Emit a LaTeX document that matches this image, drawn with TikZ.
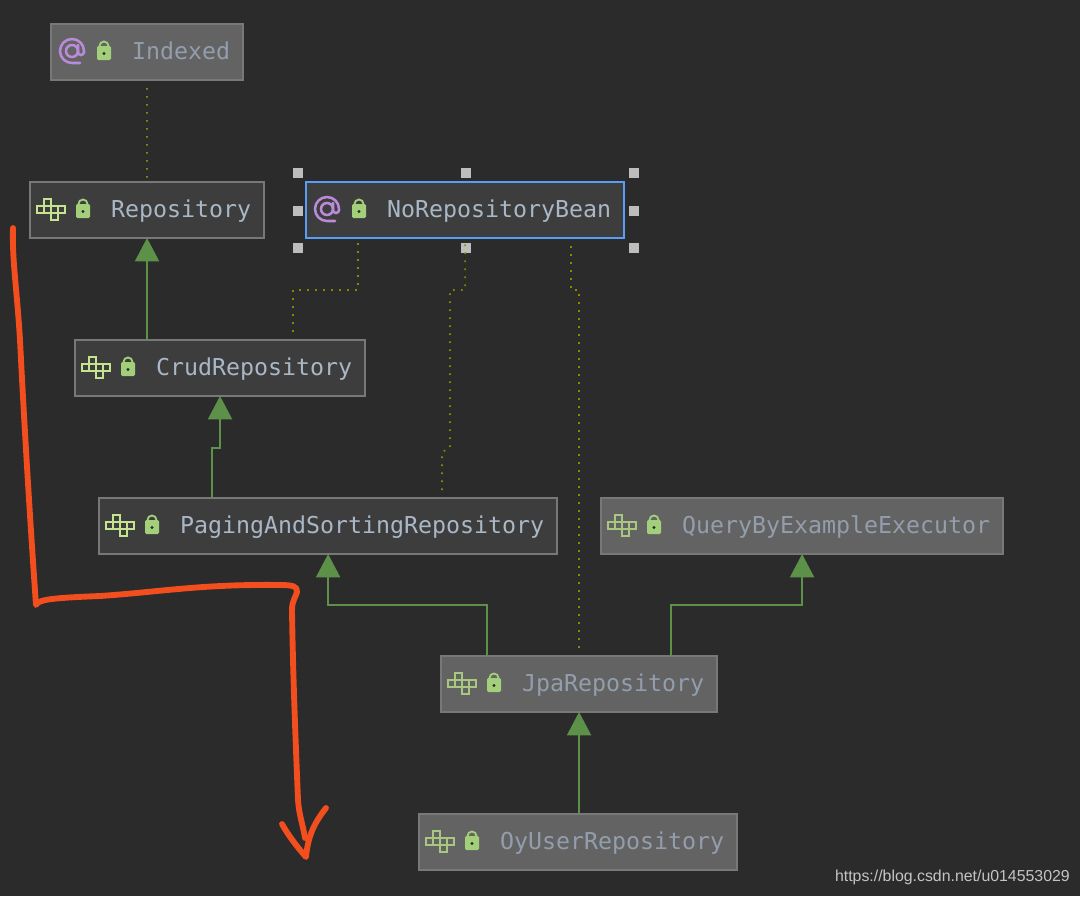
\documentclass[tikz,border=0pt]{standalone}
\usepackage{xcolor}
\usepackage{fontspec}
\setmonofont{DejaVu Sans Mono}
\setsansfont{Liberation Sans}
\usepackage{tikz}
\usetikzlibrary{arrows.meta,calc}
\definecolor{bgdark}{HTML}{2B2B2B}
\definecolor{boxdark}{HTML}{3D3D3D}
\definecolor{boxdim}{HTML}{636363}
\definecolor{boxline}{HTML}{787878}
\definecolor{txtbright}{HTML}{A9B7C6}
\definecolor{txtdim}{HTML}{939EAD}
\definecolor{selblue}{HTML}{589DF6}
\definecolor{extgreen}{HTML}{5D9049}
\definecolor{dotolive}{HTML}{8A8A00}
\definecolor{penred}{HTML}{F24E1E}
\definecolor{atpurple}{HTML}{BB8BDB}
\definecolor{clsgreen}{HTML}{C6E48F}
\definecolor{clsdim}{HTML}{A9C87F}
\definecolor{lockgreen}{HTML}{A3CF7B}
\definecolor{handlegray}{HTML}{BDBDBD}
\definecolor{marktxt}{HTML}{C4C4C4}

\begin{document}
\begin{tikzpicture}[
x=0.75pt,y=-0.75pt,
elem/.style={
    rectangle,anchor=north west,minimum height=42pt,inner ysep=0pt,inner xsep=9.75pt,outer sep=0pt,
    line width=1.5pt,draw=boxline,fill=boxdark,text=txtbright,text height=15.5pt,text depth=4pt,
    font=\ttfamily\fontsize{17.45}{20}\selectfont
},
elemdim/.style={
    elem,fill=boxdim,text=txtdim
},
extends/.style={
    line width=1.5pt,draw=extgreen,-{Triangle[length=17.5pt,width=18pt,fill=extgreen]}
},
annot/.style={
    line width=1.2pt,draw=dotolive,dash pattern=on 1.2pt off 4.8pt,shorten <=6pt,shorten >=3pt
},
handle/.style={
    rectangle,fill=handlegray,minimum size=7.5pt,inner sep=0pt
},
pen/.style={
    line width=4.4pt,draw=penred,line cap=round,line join=round
},
clsicon/.pic={
    \foreach \cx/\cy in {-7/-11,-14/-4,-7/-4,0/-4,7/-4,0/3}
        \draw[line width=1.6pt,pic actions] (\cx,\cy) rectangle ++(7,7);
},
lockicon/.pic={
    \fill[lockgreen,rounded corners=1pt] (-7,-6) rectangle (7,8);
    \draw[lockgreen,line width=1.4pt] (-4.5,-6) arc[start angle=180,end angle=360,radius=4.5];
    \fill[bgdark] (0,1.5) circle (1.7);
},
aticon/.pic={
    \draw[atpurple,line width=1.9pt,line cap=round] (0,0) circle (6);
    \draw[atpurple,line width=1.9pt,line cap=round] (6,-6) -- (6,1) arc[start angle=180,end angle=0,radius=3] -- (12,0)
        arc[start angle=0,end angle=-270,radius=12] -- (8,12);
}
]
    \fill[bgdark] (0,0) rectangle (1080,896);
    % selection handles
    \foreach \hx/\hy [count=\hn] in {298/173,466/173,634/173,298/211,634/211,298/248,466/248,634/248}
        \node(H\hn)[handle] at (\hx,\hy){};

    \node(NIdx)[elemdim] at (51,24){\hspace*{51pt}Indexed};
    \node(NRepo)[elem] at (30,182){\hspace*{51pt}Repository};
    \node(NBean)[elem,draw=selblue] at (306,182){\hspace*{51pt}NoRepositoryBean};
    \node(NCrud)[elem] at (75,340){\hspace*{51pt}CrudRepository};
    \node(NPage)[elem] at (99,498){\hspace*{51pt}PagingAndSortingRepository};
    \node(NQuery)[elemdim] at (601,498){\hspace*{51pt}QueryByExampleExecutor};
    \node(NJpa)[elemdim] at (441,656){\hspace*{51pt}JpaRepository};
    \node(NUser)[elemdim] at (419,814){\hspace*{51pt}OyUserRepository};

    % icons
    \pic at ($(NIdx.west)+(21,-1)$) {aticon};
    \pic at ($(NBean.west)+(21,-1)$) {aticon};
    \pic at ($(NIdx.west)+(53,0)$) {lockicon};
    \pic at ($(NBean.west)+(53,0)$) {lockicon};
    \foreach \nn/\cc in {NRepo/clsgreen,NCrud/clsgreen,NPage/clsgreen,NQuery/clsdim,NJpa/clsdim,NUser/clsdim}{
        \pic[color=\cc] at ($(\nn.west)+(21,0)$) {clsicon};
        \pic at ($(\nn.west)+(53,0)$) {lockicon};
    }

    % dotted annotation links
    \draw[annot] (NIdx.south) to (NRepo.north);
    \draw[annot] ($(NCrud.north west)+(218,0)$) |- ($(NBean.south west)+(52,52)$) -- ($(NBean.south west)+(52,0)$);
    \draw[annot] ($(NPage.north west)+(343,0)$) -- ++(0,-46) -- ++(8,-4) |- ($(NBean.south)+(0,52)$) -- (NBean.south);
    \draw[annot] (NJpa.north) |- ($(NBean.south west)+(265,52)$) -- ($(NBean.south west)+(265,0)$);

    % extends links
    \draw[extends] (NCrud.north -| NRepo.south) to (NRepo.south);
    \draw[extends] ($(NPage.north west)+(113,0)$) |- ($(NCrud.south)+(0,52)$) -- (NCrud.south);
    \draw[extends] ($(NJpa.north west)+(46,0)$) |- ($(NPage.south)+(0,51)$) -- (NPage.south);
    \draw[extends] ($(NJpa.north west)+(230,0)$) |- ($(NQuery.south)+(0,51)$) -- (NQuery.south);
    \draw[extends] (NJpa.south |- NUser.north) to (NJpa.south);

    % hand drawn stroke
    \draw[pen] (13,228) .. controls (12,260) and (17,290) .. (20,340)
        .. controls (24,420) and (30,520) .. (36,605)
        .. controls (38,600) and (48,598) .. (100,596)
        .. controls (160,592) and (200,584) .. (280,585)
        .. controls (292,585) and (298,586) .. (297,592)
        .. controls (296,597) and (292,600) .. (292,610)
        .. controls (293,680) and (296,750) .. (298,800)
        .. controls (299,815) and (303,825) .. (305,838);
    \draw[pen] (282,824) .. controls (288,835) and (298,848) .. (306,857)
        .. controls (308,835) and (315,822) .. (326,808);

    \node(NMark)[anchor=east,text=marktxt,inner sep=0pt,font=\sffamily\fontsize{11.9}{14}\selectfont] at (1070,877){https://blog.csdn.net/u014553029};
\end{tikzpicture}
\end{document}
